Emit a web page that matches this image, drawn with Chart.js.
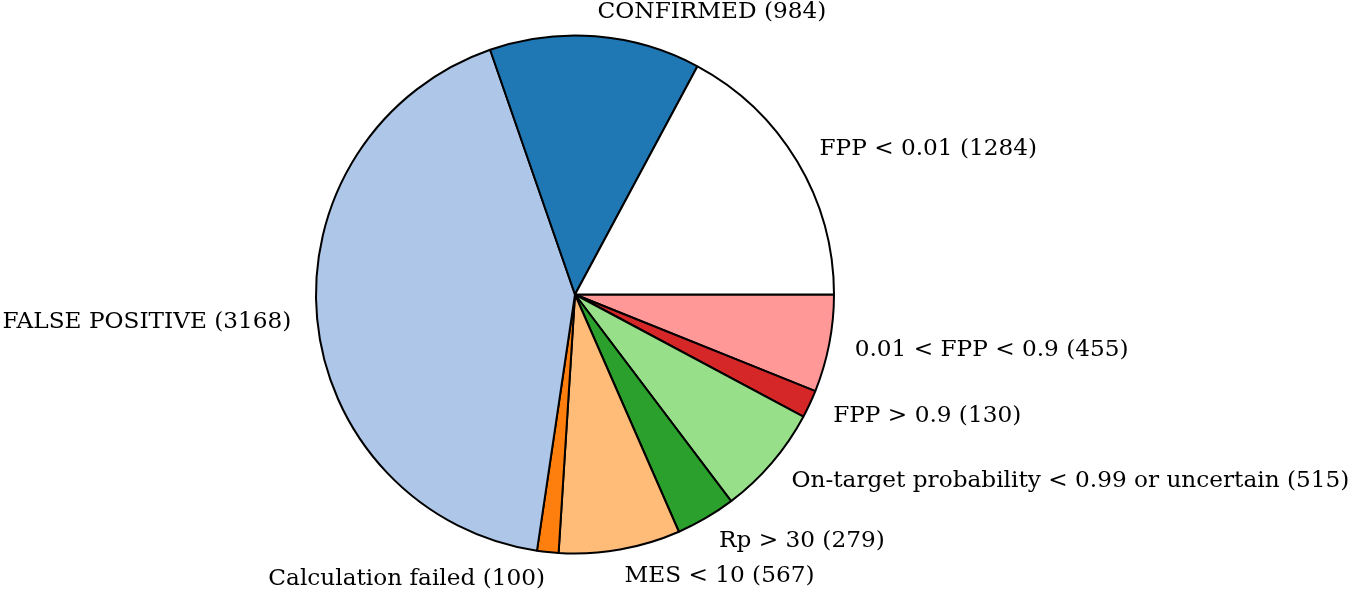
<!DOCTYPE html>
<html>
<head>
<meta charset="utf-8">
<script src="https://cdn.jsdelivr.net/npm/chart.js@4/dist/chart.umd.min.js"></script>
<style>
  html, body { margin: 0; padding: 0; background: #fff; }
  #wrap { width: 1350px; height: 590px; position: relative; }
</style>
</head>
<body>
<div id="wrap"><canvas id="pieChart"></canvas></div>
<script>
// Categories in counterclockwise order starting at 3 o'clock (as in the original)
const categories = [
    'FPP < 0.01',
    'CONFIRMED',
    'FALSE POSITIVE',
    'Calculation failed',
    'MES < 10',
    'Rp > 30',
    'On-target probability < 0.99 or uncertain',
    'FPP > 0.9',
    '0.01 < FPP < 0.9'
];
const counts = [1284, 984, 3168, 100, 567, 279, 515, 130, 455];
const sliceColors = [
    '#ffffff', '#1f77b4', '#aec7e8', '#ff7f0e', '#ffbb78',
    '#2ca02c', '#98df8a', '#d62728', '#ff9896'
];

// Chart.js draws clockwise, so reverse the order to get the same layout
const labels = categories.slice().reverse();
const values = counts.slice().reverse();
const colors = sliceColors.slice().reverse();

const labelFont = '23.2px "DejaVu Serif"';

// Draw labels outside each slice, like matplotlib does (1.1 x radius)
const outsideLabels = {
    id: 'outsideLabels',
    afterDraw(chart) {
        const ctx = chart.ctx;
        const meta = chart.getDatasetMeta(0);
        ctx.save();
        ctx.font = labelFont;
        ctx.fillStyle = '#000';
        ctx.textBaseline = 'middle';
        meta.data.forEach((arc, i) => {
            const mid = (arc.startAngle + arc.endAngle) / 2;
            const r = arc.outerRadius * 1.1;
            const x = arc.x + Math.cos(mid) * r;
            const y = arc.y + Math.sin(mid) * r;
            ctx.textAlign = Math.cos(mid) < 0 ? 'right' : 'left';
            ctx.fillText(labels[i] + ' (' + values[i] + ')', x, y + 1);
        });
        ctx.restore();
    }
};

function drawChart() {
    const ctx = document.getElementById('pieChart').getContext('2d');
    new Chart(ctx, {
        type: 'pie',
        data: {
            labels: labels,
            datasets: [{
                data: values,
                backgroundColor: colors,
                borderColor: '#000',
                borderWidth: 2
            }]
        },
        options: {
            responsive: true,
            maintainAspectRatio: false,
            animation: false,
            rotation: 90,
            layout: {
                padding: { top: 34, bottom: 35, left: 315, right: 515 }
            },
            plugins: {
                legend: { display: false },
                tooltip: { enabled: false }
            }
        },
        plugins: [outsideLabels]
    });
}

document.fonts.load(labelFont).then(drawChart, drawChart);
</script>
</body>
</html>
